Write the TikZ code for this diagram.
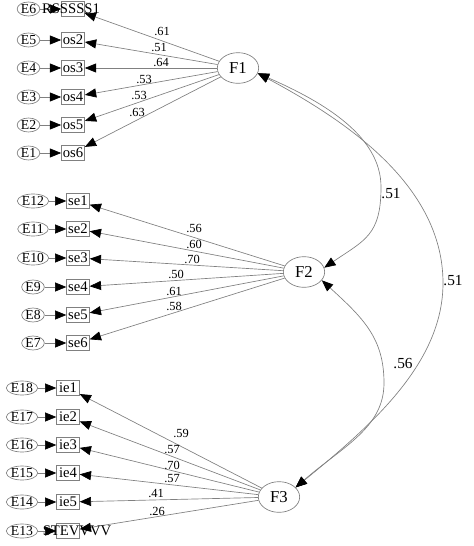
\documentclass[tikz,border=0pt]{standalone}
\usepackage{fontspec}
\setmainfont{Liberation Serif}
\usetikzlibrary{arrows.meta,shapes.geometric}
\definecolor{linegray}{HTML}{808080}
\tikzset{
  errv/.style={ellipse, draw=linegray, line width=0.5pt, minimum width=17pt, minimum height=10.5pt, inner sep=0pt, font=\fontsize{10.3}{11}\selectfont},
  obsv/.style={rectangle, draw=linegray, line width=0.5pt, minimum width=17pt, minimum height=11.25pt, inner sep=1pt, font=\fontsize{11}{12}\selectfont},
  facv/.style={ellipse, draw=linegray, line width=0.5pt, minimum width=31pt, minimum height=23pt, inner sep=0pt, font=\fontsize{12.5}{14}\selectfont},
  wlab/.style={inner sep=0pt, font=\fontsize{9.3}{10}\selectfont},
  clab/.style={inner sep=0pt, font=\fontsize{11.5}{13}\selectfont},
  glitch/.style={inner sep=0pt, font=\fontsize{11}{12}\selectfont},
  pathc/.style={draw=linegray, line width=0.5pt, -{Triangle[length=8.5pt,width=6.8pt,color=black]}},
  corr/.style={draw=linegray, line width=0.5pt, {Triangle[length=8.5pt,width=6.8pt,color=black]}-{Triangle[length=8.5pt,width=6.8pt,color=black]}}
}
\begin{document}
\begin{tikzpicture}[x=0.75pt,y=-0.75pt]
\useasboundingbox (0,0) rectangle (474,546);
% factors
\node[facv] (F1) at (238,68) {F1};
\node[facv] (F2) at (304,272) {F2};
\node[facv] (F3) at (279,497) {F3};
% group 1
\foreach \i/\y/\lab/\e in {1/9/{}/E6, 2/40/os2/E5, 3/68/os3/E4, 4/97/os4/E3, 5/125/os5/E2, 6/153/os6/E1}{
  \node[obsv] (o\i) at (73,\y) {\lab};
  \node[errv] (eo\i) at (28.5,\y) {\e};
  \draw[pathc] (eo\i) -- (o\i);
  \draw[pathc] (F1) -- (o\i);
}
\node[glitch] (g1) at (71,9) {RSSSSS1};
% group 2
\foreach \i/\y/\lab/\e in {1/201/se1/E12, 2/229/se2/E11, 3/258/se3/E10, 4/287/se4/E9, 5/315/se5/E8, 6/343/se6/E7}{
  \node[obsv] (s\i) at (78,\y) {\lab};
  \node[errv] (es\i) at (33,\y) {\e};
  \draw[pathc] (es\i) -- (s\i);
  \draw[pathc] (F2) -- (s\i);
}
% group 3
\foreach \i/\y/\lab/\e in {1/388/ie1/E18, 2/417/ie2/E17, 3/445/ie3/E16, 4/473/ie4/E15, 5/502/ie5/E14, 6/531/{}/E13}{
  \node[obsv] (i\i) at (68,\y) {\lab};
  \node[errv] (ei\i) at (22,\y) {\e};
  \draw[pathc] (ei\i) -- (i\i);
  \draw[pathc] (F3) -- (i\i);
}
\node[glitch] (g2) at (77,531) {STEVVVV};
% loading labels
\node[wlab] (wo1) at (162,31) {.61};
\node[wlab] (wo2) at (159,47) {.51};
\node[wlab] (wo3) at (161,62) {.64};
\node[wlab] (wo4) at (144,79) {.53};
\node[wlab] (wo5) at (139,95) {.53};
\node[wlab] (wo6) at (137,112) {.63};
\node[wlab] (ws1) at (194,228) {.56};
\node[wlab] (ws2) at (194,244) {.60};
\node[wlab] (ws3) at (192,259) {.70};
\node[wlab] (ws4) at (176,274) {.50};
\node[wlab] (ws5) at (174,291) {.61};
\node[wlab] (ws6) at (174,306) {.58};
\node[wlab] (wi1) at (181,433) {.59};
\node[wlab] (wi2) at (172,450) {.57};
\node[wlab] (wi3) at (172,465) {.70};
\node[wlab] (wi4) at (172,479) {.57};
\node[wlab] (wi5) at (156,493) {.41};
\node[wlab] (wi6) at (157,511) {.26};
% correlations
\draw[corr] (F1.-15) .. controls (326,103) and (381,137) .. (381,187) .. controls (381,235) and (365,240) .. (F2.12);
\draw[corr] (F1.-15) .. controls (341,118) and (443,183) .. (443,283) .. controls (443,363) and (372,425) .. (F3.30);
\draw[corr] (F2.-25) .. controls (363,318) and (384,338) .. (384,383) .. controls (384,428) and (342,447) .. (F3.30);
\node[clab] (c12) at (391,194) {.51};
\node[clab] (c13) at (453,281) {.51};
\node[clab] (c23) at (403,364) {.56};
\end{tikzpicture}
\end{document}
